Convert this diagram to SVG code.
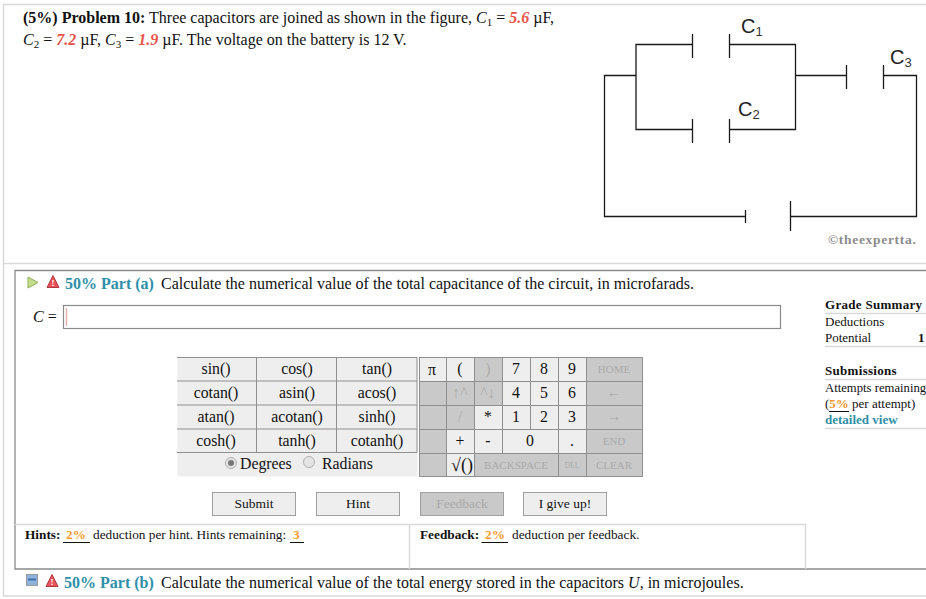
<svg xmlns="http://www.w3.org/2000/svg" width="926" height="599" viewBox="0 0 926 599">
<style>
text{font-family:"Liberation Serif","Times New Roman",serif;fill:#111}
.t15{font-size:16px}.t13{font-size:13px}.t133{font-size:13.3px}.t14{font-size:15.8px}
.b{font-weight:bold}.i{font-style:italic}
.red{fill:#e8524a;font-weight:bold;font-style:italic}
.teal{fill:#2f8fa8;font-weight:bold;font-size:16px}
.or{fill:#f39a2b;font-weight:bold}
.sub{font-size:11px}
.w{fill:none;stroke:#1a1a1a;stroke-width:1.3}
.sep{fill:none;stroke:#d9d9d9;stroke-width:1.5}
.k{fill:#eeeeee;stroke:#8f8f8f;stroke-width:1}
.d{fill:#c9c9c9;stroke:#8f8f8f;stroke-width:1}
.m{text-anchor:middle}
.dt{fill:#aaaaaa;text-anchor:middle;font-size:11px}
.dk{fill:#adadad}
.btn{fill:#eeeeee;stroke:#a0a0a0;stroke-width:1}
.ul{stroke:#111;stroke-width:1;fill:none}
.cl{font-family:"Liberation Sans",Arial,sans-serif;font-size:20px;fill:#222}
.cs{font-family:"Liberation Sans",Arial,sans-serif;font-size:13px;fill:#333}
</style>
<rect width="926" height="599" fill="#fff"/>
<g id="frame">
<path class="sep" d="M926 4.500H3.500V596H926"/>
<path class="sep" d="M3.500 263.500H926"/>
<path d="M926 270.500H15V569H926" fill="none" stroke="#8a8a8a" stroke-width="1.300"/>
<path class="sep" d="M15 524.500H805.500V569M409.500 524.500V569"/>
</g>
<g id="problem">
<text x="23" y="23" class="t15"><tspan class="b">(5%) Problem 10:</tspan> Three capacitors are joined as shown in the figure, <tspan class="i">C</tspan><tspan class="sub" dy="3">1</tspan><tspan dy="-3"> = </tspan><tspan class="red">5.6</tspan> µF,</text>
<text x="23" y="45" class="t15"><tspan class="i">C</tspan><tspan class="sub" dy="3">2</tspan><tspan dy="-3"> = </tspan><tspan class="red">7.2</tspan> µF, <tspan class="i">C</tspan><tspan class="sub" dy="3">3</tspan><tspan dy="-3"> = </tspan><tspan class="red">1.9</tspan> µF. The voltage on the battery is 12 V.</text>
</g>
<g id="connectors">
<path class="w" d="M692.500 44.500H636V129.500H692.500M729.500 44.500H795.500V129.500H729.500"/>
<path class="w" d="M636 75.500H604.500V216.500H745.500M795.500 75.500H846.500M883.500 75.500H916.500V216.500H790.500"/>
</g>
<g id="C1"><path class="w" d="M692.500 34V58M729.500 34V58"/><text x="741" y="33" class="cl">C<tspan class="cs" dy="3">1</tspan></text></g>
<g id="C2"><path class="w" d="M692.500 119V143M729.500 119V143"/><text x="738" y="116" class="cl">C<tspan class="cs" dy="3">2</tspan></text></g>
<g id="C3"><path class="w" d="M846.500 65V89M883.500 65V89"/><text x="890" y="64" class="cl">C<tspan class="cs" dy="3">3</tspan></text></g>
<g id="battery"><path class="w" d="M745.500 210V223M790.500 201V231"/></g>
<text x="828" y="244" font-size="13.500" font-weight="bold" letter-spacing=".7" style="fill:#8c8c8c">©theexpertta.</text>
<g id="part-a">
<path d="M28 277L38 282.500L28 288Z" fill="#c6dd8c" stroke="#8fae5a"/>
<path d="M53 275.500L59 287.500H47Z" fill="#e8525a" stroke="#b03a40"/>
<text x="53" y="286" text-anchor="middle" font-size="9" font-weight="bold" style="fill:#fff">!</text>
<text x="65" y="289" class="teal">50% Part (a)</text>
<text x="161" y="289" class="t15">Calculate the numerical value of the total capacitance of the circuit, in microfarads.</text>
<text x="33" y="322" class="t15"><tspan class="i">C</tspan> =</text>
<rect x="63.500" y="305.500" width="717" height="23" fill="#fff" stroke="#8a8a8a" stroke-width="1.200"/>
<path d="M66.500 308V326" stroke="#e8b0b0" stroke-width="1.500"/>
</g>
<g id="keypad-functions" class="t14">
<rect x="177.500" y="357.500" width="240" height="119" fill="#eeeeee"/>
<path d="M177 357.500H417M177 381H417M177 405H417M177 429H417M177 452.500H417M256.500 357.500V452.500M336.500 357.500V452.500M417 357.500V452.500" fill="none" stroke="#909090"/>
<text x="216" y="374" class="m">sin()</text><text x="297" y="374" class="m">cos()</text><text x="377" y="374" class="m">tan()</text>
<text x="216" y="398" class="m">cotan()</text><text x="297" y="398" class="m">asin()</text><text x="377" y="398" class="m">acos()</text>
<text x="216" y="422" class="m">atan()</text><text x="297" y="422" class="m">acotan()</text><text x="377" y="422" class="m">sinh()</text>
<text x="216" y="446" class="m">cosh()</text><text x="297" y="446" class="m">tanh()</text><text x="377" y="446" class="m">cotanh()</text>
<circle cx="231" cy="463" r="5.500" fill="#e4e4e4" stroke="#b0b0b0"/><circle cx="231" cy="463" r="3" fill="#777"/>
<text x="240" y="469">Degrees</text>
<circle cx="309" cy="462" r="5.500" fill="#e4e4e4" stroke="#b0b0b0"/>
<text x="322" y="469">Radians</text>
</g>
<g id="keypad-numbers">
<rect class="k" x="419.500" y="357.500" width="27" height="24"/>
<rect class="k" x="446.500" y="357.500" width="28" height="24"/>
<rect class="d" x="474.500" y="357.500" width="28" height="24"/>
<rect class="k" x="502.500" y="357.500" width="28" height="24"/>
<rect class="k" x="530.500" y="357.500" width="28" height="24"/>
<rect class="k" x="558.500" y="357.500" width="28" height="24"/>
<rect class="d" x="586.500" y="357.500" width="56" height="24"/>
<rect class="d" x="419.500" y="381.500" width="27" height="24"/>
<rect class="d" x="446.500" y="381.500" width="28" height="24"/>
<rect class="d" x="474.500" y="381.500" width="28" height="24"/>
<rect class="k" x="502.500" y="381.500" width="28" height="24"/>
<rect class="k" x="530.500" y="381.500" width="28" height="24"/>
<rect class="k" x="558.500" y="381.500" width="28" height="24"/>
<rect class="d" x="586.500" y="381.500" width="56" height="24"/>
<rect class="d" x="419.500" y="405.500" width="27" height="24"/>
<rect class="d" x="446.500" y="405.500" width="28" height="24"/>
<rect class="k" x="474.500" y="405.500" width="28" height="24"/>
<rect class="k" x="502.500" y="405.500" width="28" height="24"/>
<rect class="k" x="530.500" y="405.500" width="28" height="24"/>
<rect class="k" x="558.500" y="405.500" width="28" height="24"/>
<rect class="d" x="586.500" y="405.500" width="56" height="24"/>
<rect class="d" x="419.500" y="429.500" width="27" height="24"/>
<rect class="k" x="446.500" y="429.500" width="28" height="24"/>
<rect class="k" x="474.500" y="429.500" width="28" height="24"/>
<rect class="k" x="502.500" y="429.500" width="56" height="24"/>
<rect class="k" x="558.500" y="429.500" width="28" height="24"/>
<rect class="d" x="586.500" y="429.500" width="56" height="24"/>
<rect class="d" x="419.500" y="453.500" width="27" height="23"/>
<rect class="k" x="446.500" y="453.500" width="28" height="23"/>
<rect class="d" x="474.500" y="453.500" width="84" height="23"/>
<rect class="d" x="558.500" y="453.500" width="28" height="23"/>
<rect class="d" x="586.500" y="453.500" width="56" height="23"/>
<g class="t14">
<text x="432" y="375" class="m">π</text><text x="460" y="374" class="m">(</text><text x="488" y="374" class="m dk">)</text><text x="516" y="374" class="m">7</text><text x="544" y="374" class="m">8</text><text x="572" y="374" class="m">9</text>
<text x="460" y="398" class="m dk">↑^</text><text x="488" y="398" class="m dk">^↓</text><text x="516" y="398" class="m">4</text><text x="544" y="398" class="m">5</text><text x="572" y="398" class="m">6</text>
<text x="460" y="422" class="m dk">/</text><text x="488" y="422" class="m">*</text><text x="516" y="422" class="m">1</text><text x="544" y="422" class="m">2</text><text x="572" y="422" class="m">3</text>
<text x="460" y="446" class="m">+</text><text x="488" y="446" class="m">-</text><text x="530" y="446" class="m">0</text><text x="572" y="446" class="m">.</text>
<text x="462" y="471" class="m" style="font-size:18px">√()</text>
</g>
<text x="614" y="373" class="dt">HOME</text>
<text x="614" y="397" class="dt" style="font-size:15px">←</text>
<text x="614" y="421" class="dt" style="font-size:15px">→</text>
<text x="614" y="445" class="dt">END</text>
<text x="516" y="469" class="dt">BACKSPACE</text>
<text x="572" y="468" class="dt" style="font-size:7.500px">DEL</text>
<text x="614" y="469" class="dt">CLEAR</text>
</g>
<g id="grade-summary" class="t13">
<text x="825" y="309" class="b" letter-spacing=".3">Grade Summary</text>
<path class="sep" d="M825 313.500H926M825 346.500H926"/>
<text x="825" y="326">Deductions</text>
<text x="825" y="342">Potential</text>
<text x="918" y="342" class="b">1</text>
<text x="825" y="375" class="b" letter-spacing=".3">Submissions</text>
<path class="sep" d="M825 379.500H926M825 428.500H926"/>
<text x="825" y="392" style="font-size:12.700px">Attempts remaining</text>
<text x="825" y="408">(<tspan class="or">5%</tspan> per attempt)</text>
<path class="ul" d="M829 411.500H849"/>
<text x="825" y="424" class="b" style="fill:#2f8fa8">detailed view</text>
</g>
<g id="buttons" style="font-size:13.500px">
<rect class="btn" x="212.500" y="492.500" width="83" height="23"/><text x="254" y="508" class="m">Submit</text>
<rect class="btn" x="316.500" y="492.500" width="83" height="23"/><text x="358" y="508" class="m">Hint</text>
<rect x="420.500" y="492.500" width="83" height="23" fill="#c9c9c9" stroke="#a0a0a0"/><text x="462" y="508" class="m" style="fill:#a8a8a8">Feedback</text>
<rect class="btn" x="523.500" y="492.500" width="83" height="23"/><text x="565" y="508" class="m">I give up!</text>
</g>
<g id="hints" class="t133">
<text x="25" y="539"><tspan class="b">Hints:</tspan></text>
<text x="66" y="539" class="or">2%</text><path class="ul" d="M63 542.500H90"/>
<text x="93" y="539">deduction per hint. Hints remaining:</text>
<text x="293" y="539" class="or">3</text><path class="ul" d="M290 542.500H304"/>
<text x="420" y="539"><tspan class="b">Feedback:</tspan></text>
<text x="485" y="539" class="or">2%</text><path class="ul" d="M481.500 542.500H508"/>
<text x="512" y="539">deduction per feedback.</text>
</g>
<g id="part-b">
<rect x="26.500" y="574.500" width="11" height="11" fill="#8fb4dc" stroke="#9a9a9a"/>
<path d="M28 579.500H36" stroke="#3c6ea8" stroke-width="2"/>
<path d="M52 574.500L58 586.500H46Z" fill="#e8525a" stroke="#b03a40"/>
<text x="52" y="585" text-anchor="middle" font-size="9" font-weight="bold" style="fill:#fff">!</text>
<text x="64" y="588" class="teal">50% Part (b)</text>
<text x="161" y="588" class="t15">Calculate the numerical value of the total energy stored in the capacitors <tspan class="i">U</tspan>, in microjoules.</text>
</g>
</svg>
